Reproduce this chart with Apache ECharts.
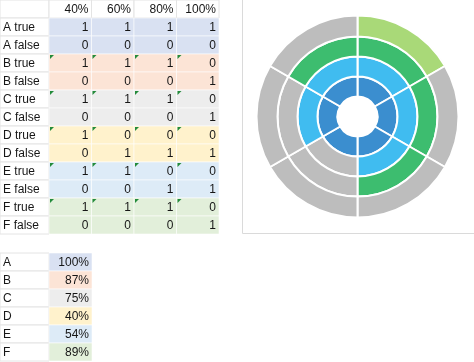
<!DOCTYPE html>
<html>
<head>
<meta charset="utf-8">
<script src="https://cdn.jsdelivr.net/npm/echarts@6/dist/echarts.min.js"></script>
<style>
html,body{margin:0;padding:0;background:#fff;}
#main{width:474px;height:362px;}
</style>
</head>
<body>
<div id="main"></div>
<script>
// ---- data ----
var letters = ['A', 'B', 'C', 'D', 'E', 'F'];
var colLabels = ['40%', '60%', '80%', '100%'];
var rowLabels = ['A true', 'A false', 'B true', 'B false', 'C true', 'C false',
                 'D true', 'D false', 'E true', 'E false', 'F true', 'F false'];
var cellValues = [
  [1, 1, 1, 1], [0, 0, 0, 0],
  [1, 1, 1, 0], [0, 0, 0, 1],
  [1, 1, 1, 0], [0, 0, 0, 1],
  [1, 0, 0, 0], [0, 1, 1, 1],
  [1, 1, 0, 0], [0, 0, 1, 1],
  [1, 1, 1, 0], [0, 0, 0, 1]
];
var storedAsText = [0, 0, 1, 0, 1, 0, 1, 0, 1, 0, 1, 0];
var percentLabels = ['100%', '87%', '75%', '40%', '54%', '89%'];

// ---- style ----
var letterFill = ['#D9E1F2', '#FCE4D6', '#EDEDED', '#FFF2CC', '#DDEBF7', '#E2EFDA'];
var ringColors = ['#3B8ECF', '#40BCF0', '#3DBD6F', '#A9D978'];
var offColor = '#BDBDBD';
var FONT = '12px "Liberation Sans", Arial, sans-serif';
var LINE_WHITE = '#E4E4E4';
var LINE_COLOR = 'rgba(255,255,255,0.55)';

function cellShape(api, text, fill, align, tri) {
  var p = api.coord([api.value(0), api.value(1)]);
  var s = api.size([1, 1]);
  var x0 = p[0] - s[0] / 2, x1 = p[0] + s[0] / 2;
  var y0 = p[1] - s[1] / 2, y1 = p[1] + s[1] / 2;
  var kids = [{
    type: 'rect',
    shape: { x: x0, y: y0, width: x1 - x0, height: y1 - y0 },
    style: { fill: fill, stroke: fill === '#fff' ? LINE_WHITE : LINE_COLOR, lineWidth: 1 }
  }, {
    type: 'text',
    x: align === 'right' ? x1 - 3 : x0 + 3,
    y: (y0 + y1) / 2 + 1,
    style: { text: text, align: align, verticalAlign: 'middle', font: FONT, fill: '#161616' }
  }];
  if (tri) {
    kids.push({
      type: 'polygon',
      shape: { points: [[x0 + 1, y0 + 1], [x0 + 5, y0 + 1], [x0 + 1, y0 + 5]] },
      style: { fill: '#238B3B' }
    });
  }
  return { type: 'group', children: kids };
}

var topRows = [''].concat(rowLabels);

var labelData = topRows.map(function (t, r) { return [0, r]; });
var dataCells = [];
for (var r = 0; r < topRows.length; r++) {
  for (var c = 0; c < colLabels.length; c++) dataCells.push([c, r]);
}
var bottomLabelData = letters.map(function (l, i) { return [0, i]; });
var bottomValueData = letters.map(function (l, i) { return [0, i]; });

var grids = [
  { left: 0, top: 0, width: 49, height: 234 },
  { left: 49, top: 0, width: 170, height: 234 },
  { left: 0, top: 253, width: 49, height: 108 },
  { left: 49, top: 253, width: 43, height: 108 }
];
function xa(i, cats) { return { type: 'category', gridIndex: i, data: cats, show: false }; }
function ya(i, cats) { return { type: 'category', gridIndex: i, data: cats, show: false, inverse: true }; }

var pies = ringColors.map(function (col, ring) {
  return {
    type: 'pie',
    center: [357.5, 116.5],
    radius: [20 + ring * 20, ring === 3 ? 101 : 40 + ring * 20],
    startAngle: 90,
    clockwise: true,
    silent: true,
    label: { show: false },
    labelLine: { show: false },
    itemStyle: { borderColor: '#fff', borderWidth: 2 },
    data: letters.map(function (l, i) {
      var on = cellValues[2 * i][ring] === 1;
      return { name: l + ' ' + colLabels[ring], value: 1, itemStyle: { color: on ? col : offColor } };
    })
  };
});

var option = {
  animation: false,
  backgroundColor: '#fff',
  grid: grids,
  xAxis: [xa(0, ['label']), xa(1, colLabels), xa(2, ['label']), xa(3, ['value'])],
  yAxis: [ya(0, topRows), ya(1, topRows), ya(2, letters), ya(3, letters)],
  graphic: [{
    type: 'rect',
    shape: { x: 242.5, y: -5, width: 260, height: 238.5 },
    style: { fill: 'none', stroke: '#DADADA', lineWidth: 1 },
    silent: true
  }],
  series: [{
    type: 'custom', xAxisIndex: 0, yAxisIndex: 0, data: labelData, encode: { x: 0, y: 1 },
    renderItem: function (params, api) {
      return cellShape(api, topRows[api.value(1)], '#fff', 'left', false);
    }
  }, {
    type: 'custom', xAxisIndex: 1, yAxisIndex: 1, data: dataCells, encode: { x: 0, y: 1 },
    renderItem: function (params, api) {
      var c = api.value(0), r = api.value(1);
      if (r === 0) return cellShape(api, colLabels[c], '#fff', 'right', false);
      return cellShape(api, String(cellValues[r - 1][c]), letterFill[Math.floor((r - 1) / 2)],
        'right', storedAsText[r - 1] === 1);
    }
  }, {
    type: 'custom', xAxisIndex: 2, yAxisIndex: 2, data: bottomLabelData, encode: { x: 0, y: 1 },
    renderItem: function (params, api) {
      return cellShape(api, letters[api.value(1)], '#fff', 'left', false);
    }
  }, {
    type: 'custom', xAxisIndex: 3, yAxisIndex: 3, data: bottomValueData, encode: { x: 0, y: 1 },
    renderItem: function (params, api) {
      var i = api.value(1);
      return cellShape(api, percentLabels[i], letterFill[i], 'right', false);
    }
  }].concat(pies)
};

var chart = echarts.init(document.getElementById('main'), null, { renderer: 'canvas' });
chart.setOption(option);
</script>
</body>
</html>
